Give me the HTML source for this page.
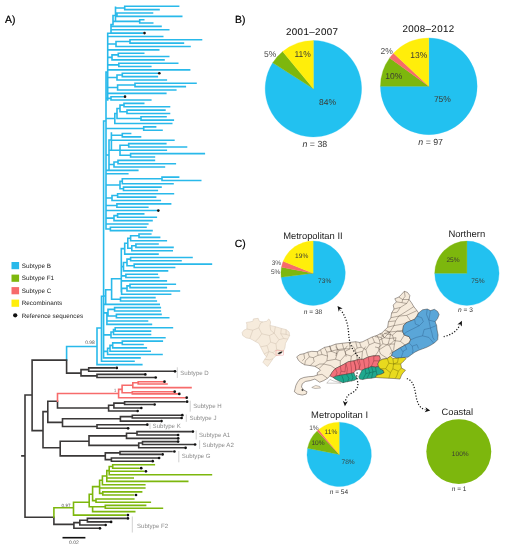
<!DOCTYPE html>
<html lang="en">
<head>
<meta charset="utf-8">
<title>HIV-1 subtype phylogeny and distribution</title>
<style>
html,body{margin:0;padding:0;background:#fff;}
body{width:505px;height:550px;overflow:hidden;}
svg{display:block;font-family:"Liberation Sans",Arial,Helvetica,sans-serif;}
svg text{font-family:"Liberation Sans",Arial,Helvetica,sans-serif;text-rendering:geometricPrecision;}
</style>
</head>
<body>
<svg width="505" height="550" viewBox="0 0 505 550">
<rect width="505" height="550" fill="#fff"/>
<g id="maps"><polygon points="296.71,356.88 299.88,354.5 303.84,353.71 307.8,352.13 311.76,351.34 317.31,351.65 320.48,349.75 324.44,347.38 329.98,346.27 335.84,344.06 342.18,343.27 349.31,342.48 355.64,341.68 359.6,342.48 362.77,341.68 367.52,339.31 372.28,336.93 377.03,335.35 381.78,332.97 384.5,330.4 387.67,327.23 388.47,321.68 390.84,317.72 391.63,312.97 394.01,309.01 393.22,305.05 396.39,301.88 394.8,298.71 398.76,297.13 401.14,294.75 404.31,291.27 407.48,292.38 409.85,295.54 409.06,299.5 411.44,302.67 413.81,306.63 416.98,310.59 418.56,312.97 416.98,316.14 414.6,319.31 410.64,320.89 406.68,322.48 403.51,325.64 402.72,330.4 402.72,331.88 404.31,335.05 409.06,336.63 410.64,339.8 409.06,342.97 405.1,345.03 400.35,347.72 396.39,350.1 392.43,352.48 391.63,355.64 387.28,358.47 382.52,359.26 379.36,360.84 380.15,358.47 379.36,355.77 373.81,355.77 368.27,356.88 363.51,359.26 358.76,359.26 354.01,360.84 348.47,361.63 342.92,364.8 338.17,367.18 335,368.76 332.36,371.93 329.98,375.89 327.6,378.27 323.64,380.64 319.68,382.23 317.31,380.64 314.93,379.06 310.18,380.64 305.43,381.44 302.26,383.81 301.47,386.98 303.84,390.15 307.01,391.73 306.22,394.11 302.26,395.06 297.5,394.11 294.34,391.73 295.13,388.56 295.92,385.4 297.5,382.23 299.88,379.06 303.84,377.48 308.59,376.68 313.35,376.37 317.31,375.1 317.31,372.72 320.48,370.35 318.89,368.76 314.93,366.39 310.18,365.59 304.63,364.8 300.67,362.43 298.3,360.05" fill="#f6ebdc" stroke="#3a2f28" stroke-width="0.45" stroke-linejoin="round"/>
<polygon points="379.36,355.77 380.15,358.47 379.36,360.84 377.77,364.01 378.56,366.39 375.4,367.18 371.44,366.39 368.27,367.97 365.1,368.76 361.93,370.35 358.76,369.55 355.59,370.35 354.01,372.72 350.05,373.51 346.09,374.31 341.34,375.1 337.38,375.89 335,376.37 333.15,377.48 329.98,375.89 332.36,371.93 335,368.76 338.17,367.18 342.92,364.8 348.47,361.63 354.01,360.84 358.76,359.26 363.51,359.26 368.27,356.88 373.81,355.77" fill="#f2707a" stroke="#3a2f28" stroke-width="0.45" stroke-linejoin="round"/>
<polygon points="333.15,377.48 337.38,375.89 341.34,375.1 346.09,374.31 350.05,373.51 354.01,372.88 355.28,375.89 357.18,378.27 354.8,380.17 350.84,381.12 346.88,381.75 342.92,382.7 338.96,381.12 335,378.9" fill="#1fa88e" stroke="#3a2f28" stroke-width="0.45" stroke-linejoin="round"/>
<polygon points="358.76,376.68 360.35,373.51 361.93,370.35 365.1,368.76 368.27,367.97 371.44,366.39 375.4,367.18 378.56,366.39 380.15,368.76 383.32,370.35 384.11,372.72 380.94,374.31 376.98,375.1 375.4,377.48 371.44,378.27 366.68,378.58 362.72,379.53 359.55,379.06" fill="#1fa88e" stroke="#3a2f28" stroke-width="0.45" stroke-linejoin="round"/>
<polygon points="379.36,360.84 382.52,359.26 387.28,358.47 390.45,356.09 392.82,358.47 398.37,357.67 403.91,356.88 406.29,358.47 403.12,361.63 400.74,364.01 401.53,367.97 405.5,370.35 403.12,372.72 401.53,375.1 399.95,379.06 395.2,378.58 388.86,378.27 382.52,377.95 375.4,377.48 376.98,375.1 380.94,374.31 384.11,372.72 383.32,370.35 380.15,368.76 378.56,366.39 377.77,364.01" fill="#e8da1e" stroke="#3a2f28" stroke-width="0.45" stroke-linejoin="round"/>
<polygon points="418.56,312.97 422.52,309.8 427.28,309.01 430.45,310.59 434.41,309.33 437.57,311.39 439.16,314.55 437.57,318.51 435.2,321.68 435.99,324.06 436.6,325 437.1,330 438.1,334.9 437.7,339.7 434.6,342.8 430.6,345.3 426.7,347.3 422.7,348.8 418.8,350.2 414.8,352.2 411.3,354.7 407.9,357.2 405.9,357.3 401.1,357.7 396.4,358 391.63,355.64 392.43,352.48 396.39,350.1 400.35,347.72 405.1,345.03 409.06,342.97 410.64,339.8 409.06,336.63 404.31,335.05 402.72,331.88 402.72,330.4 403.51,325.64 406.68,322.48 410.64,320.89 414.6,319.31 416.98,316.14" fill="#5aa6d8" stroke="#3a2f28" stroke-width="0.45" stroke-linejoin="round"/>
<polygon points="326.81,383.18 329.98,379.38 333.15,380.8 338.69,382.23 341.07,383.18" fill="#fff" stroke="#3a2f28" stroke-width="0.25" stroke-linejoin="round"/>
<polygon points="311.76,387.46 315.72,385.4 319.68,386.5 320.48,388.09 314.93,388.56" fill="#f6ebdc" stroke="#3a2f28" stroke-width="0.3" stroke-linejoin="round"/>
<polygon points="301.47,389.67 302.57,389.04 303.52,390.31 302.26,390.94" fill="#333" stroke="#333" stroke-width="0.2" stroke-linejoin="round"/>
<path d="M303.84 353.71L304.63 358.47L302.26 360.84M307.8 352.13L309.39 356.88L313.35 357.67L314.14 361.63L310.18 365.59M317.31 351.65L318.1 355.3L313.35 357.67M320.48 349.75L322.06 354.5L318.1 355.3M322.06 354.5L327.6 356.09L326.81 360.84L323.64 364.01L318.89 368.76M324.44 347.38L326.81 352.13L327.6 356.09M329.98 346.27L331.56 351.34L326.81 352.13M331.56 351.34L337.11 353.71L335.52 359.26L326.81 360.84M335.52 346.58L338.69 350.54L337.11 353.71M335.52 359.26L340.28 360.84L340.28 365.59M323.64 364.01L330.77 365.59L335.52 368.76M338.69 350.54L344.24 349.75L345.82 354.5L340.28 360.84M345.82 354.5L351.37 356.09L350.57 362.43M344.24 349.75L347.41 345.79M351.37 356.09L356.12 352.92L357.7 361.63M356.12 352.92L354.53 348.17L351.37 345M356.12 352.92L362.46 351.34L361.66 360.05M362.46 351.34L365.62 346.58M317.31 375.1L322.06 374.31L327.6 378.27M314.93 366.39L319.68 364.01L323.64 364.01M304.63 364.8L305.43 360.84L309.39 356.88" fill="none" stroke="#4f4238" stroke-width="0.4" stroke-linejoin="round"/>
<path d="M367.52 339.31L369.11 344.85L365.94 349.6L367.52 355.94M372.28 336.93L374.65 342.48L369.11 344.85M374.65 342.48L380.2 344.06L379.41 349.6L374.65 356.73M377.03 335.35L379.41 340.1L380.2 344.06M381.78 332.97L384.16 337.72L379.41 340.1M384.16 337.72L389.7 338.51L388.12 344.06L379.41 349.6M386.53 330.59L390.5 333.76L389.7 338.51M389.7 338.51L396.04 337.72L394.46 344.06L388.12 344.06M394.46 344.06L393.66 349.6L389.7 354.36M355.64 341.68L357.23 348.02L354.06 351.19M359.6 342.48L361.19 347.23L357.23 348.02M361.19 347.23L365.94 349.6M349.31 342.48L350.1 348.81L345.35 351.19L346.14 356.73M342.18 343.27L343.76 348.81L350.1 348.81M335.84 344.06L337.43 349.6L343.76 348.81M337.43 349.6L335.84 355.94M329.5 345.64L331.09 351.19L337.43 349.6" fill="none" stroke="#4f4238" stroke-width="0.4" stroke-linejoin="round"/>
<path d="M394.01 309.01L400.35 307.43L406.68 303.47L409.06 299.5M396.39 301.88L401.93 302.67L406.68 303.47M398.76 297.13L402.72 299.5L401.93 302.67M402.72 299.5L409.06 299.5M404.31 291.27L405.1 296.34L402.72 299.5M390.84 317.72L398.76 316.14L405.1 312.18L413.81 306.63M388.47 321.68L395.59 320.89L398.76 316.14M387.67 327.23L394.01 325.64L395.59 320.89M394.01 325.64L402.72 324.06L406.68 322.48M398.76 316.14L406.68 315.35L416.98 310.59M406.68 315.35L410.64 320.89M384.5 330.4L390.05 331.98L394.01 325.64M390.05 331.98L397.18 331.19L402.72 330.4M379.75 333.56L384.5 337.52L390.05 331.98M391.63 312.97L397.18 312.18L400.35 307.43" fill="none" stroke="#4f4238" stroke-width="0.4" stroke-linejoin="round"/>
<path d="M375 336.63L381.34 337.43L384.5 333.47L390.05 332.04M381.34 337.43L382.92 343.76L378.17 347.72L375 346.93M382.92 343.76L389.26 345.35L392.43 352.48M389.26 345.35L394.01 340.59L400.35 341.39L405.1 345.03M394.01 340.59L392.43 335.05L397.18 331.09L402.72 331.88M384.5 333.47L392.43 335.05M378.17 347.72L380.54 354.06L386.88 358.02M400.35 341.39L404.31 335.05" fill="none" stroke="#4f4238" stroke-width="0.4" stroke-linejoin="round"/>
<path d="M427.28 309.01L426.49 314.55L428.86 320.1L430.45 328.02L432.03 333.56L432.82 337.52L434.41 339.9M430.45 310.59L429.65 315.35L428.86 320.1M428.86 320.1L435.2 321.68M430.45 328.02L435.99 325.64M416.98 316.14L421.73 317.72L423.32 321.68L419.36 325.64L415.4 324.06L414.6 319.31M419.36 325.64L413.02 328.81L406.68 331.98L403.51 334.36" fill="none" stroke="#2c5c88" stroke-width="0.4" stroke-linejoin="round"/>
<path d="M410.64 339.8L416.19 337.43L422.52 335.84L428.86 337.43L433.61 342.97M422.52 335.84L424.11 329.5L430.45 328.08M409.06 342.97L412.23 346.14L413.02 350.89L412.23 353.27M412.23 346.14L416.98 344.55L418.56 348.51M405.1 345.03L406.68 349.31L403.51 350.89L401.14 357.7M400.35 347.72L402.72 351.68" fill="none" stroke="#2c5c88" stroke-width="0.4" stroke-linejoin="round"/>
<path d="M387.28 358.47L388.86 363.22L393.61 364.01L400.74 364.01M388.86 363.22L385.69 368.76L380.15 368.76M385.69 368.76L390.45 372.72L388.86 378.27M393.61 364.01L392.82 368.76L390.45 372.72M392.82 368.76L398.37 371.14L401.53 367.97M398.37 371.14L396.78 375.89L395.2 378.58M392.82 358.47L393.61 364.01M398.37 357.67L397.57 362.43L393.61 364.01" fill="none" stroke="#5f5a00" stroke-width="0.4" stroke-linejoin="round"/>
<path d="M335.52 368.76L337.11 372.72L335.52 376.68M340.28 365.59L341.07 371.14L339.49 375.89M341.07 371.14L345.03 371.93L345.82 363.22M345.82 363.22L347.41 368.76L346.61 374.78M350.57 362.43L351.37 367.97L351.37 373.51M353.74 360.84L355.33 366.39L356.12 371.14M357.7 361.63L359.29 365.59L359.29 369.55" fill="none" stroke="#7a2a32" stroke-width="0.4" stroke-linejoin="round"/>
<path d="M354.01 360.84L355.59 365.59L355.59 370.35M358.76 359.26L360.35 364.8L358.76 369.55M363.51 359.26L364.31 364.01L365.1 368.76M368.27 356.88L369.06 362.43L368.27 367.97M373.81 355.77L373.81 360.84L371.44 366.39M373.81 360.84L379.36 360.84" fill="none" stroke="#7a2a32" stroke-width="0.4" stroke-linejoin="round"/>
<path d="M341.86 375.89L343.45 379.85L343.45 383.02M346.61 374.78L348.99 378.27L347.41 382.23M351.37 373.51L352.95 377.48L351.37 381.44" fill="none" stroke="#0b5043" stroke-width="0.4" stroke-linejoin="round"/>
<path d="M365.1 368.76L365.89 373.51L362.72 379.53M368.27 367.97L369.85 372.72L366.68 378.58M371.44 366.39L373.02 371.93L371.44 378.27M375.4 367.18L376.19 371.14L376.98 375.1M365.89 373.51L369.85 372.72L373.02 371.93L376.19 371.14" fill="none" stroke="#0b5043" stroke-width="0.4" stroke-linejoin="round"/>
<polygon points="253.42,318.91 258.17,318.32 259.36,321.29 262.92,321.88 266.48,321.29 268.86,318.91 270.64,321.88 270.05,325.44 275.39,326.63 281.33,328.42 286.09,329.6 289.06,331.98 289.65,335.54 287.87,339.11 285.49,343.27 284.9,348.02 283.12,351.58 280.15,354.55 275.99,355.74 273.02,358.71 270.64,362.28 267.67,366.43 266.48,365.84 262.92,362.28 264.7,359.3 266.48,356.93 264.11,353.96 262.33,350.39 260.54,346.83 258.76,343.27 255.2,341.48 252.23,339.7 249.85,338.51 246.29,337.92 242.72,335.54 242.13,332.57 243.91,330.2 246.88,329.01 246.88,324.26 246.29,322.47 249.85,321.88 252.82,321.29" fill="#f6ebdc" stroke="#d4c5b2" stroke-width="0.5" stroke-linejoin="round"/>
<path d="M246.88 329.01L252.82 330.2L258.76 327.82L260.54 323.07L262.92 321.88M258.76 327.82L261.73 333.76L258.76 337.92L255.2 341.48M261.73 333.76L269.45 335.54L274.21 333.17L275.39 326.63M270.05 325.44L270.64 330.2L274.21 333.17M269.45 335.54L270.64 342.08L267.08 345.64L260.54 346.83M270.64 342.08L275.99 343.86L278.96 339.7L274.21 333.17M278.96 339.7L283.71 338.51L287.87 339.11M281.33 328.42L280.74 333.76L283.71 338.51M280.74 333.76L286.09 334.36L289.65 335.54M275.99 343.86L276.58 349.21L283.12 351.58M276.58 349.21L273.02 352.77L275.99 355.74M267.08 345.64L268.86 351.58L273.02 352.77M268.86 351.58L266.48 356.93M264.7 359.3L269.45 359.9L273.02 358.71M264.11 353.96L268.86 351.58M249.85 338.51L252.82 330.2M286.09 329.6L286.09 334.36" fill="none" stroke="#cbbca9" stroke-width="0.45" stroke-linejoin="round"/>
<polygon points="277.77,353.48 279.55,352.3 282.17,351.58 281.45,353.01 279.08,354.08" fill="#111" stroke="#111" stroke-width="0.2" stroke-linejoin="round"/>
<rect x="276" y="350.3" width="7.7" height="4.8" fill="none" stroke="#f08a8a" stroke-width="0.4"/></g>
<g id="arrows"><path d="M359.6 358.2C359.02 357.52 357.22 355.53 356.1 354.1C354.98 352.67 353.85 351.3 352.9 349.6C351.95 347.9 351.03 345.8 350.4 343.9C349.77 342 349.42 340.22 349.1 338.2C348.78 336.18 348.75 333.92 348.5 331.8C348.25 329.68 348.03 327.52 347.6 325.5C347.17 323.48 346.6 321.62 345.9 319.7C345.2 317.78 344.28 315.62 343.4 314C342.52 312.38 341.07 310.67 340.6 310" fill="none" stroke="#161616" stroke-width="1.25" stroke-dasharray="1.2 1.7"/>
<polygon points="0,0 -5.2,-2.5 -3.8,0 -5.2,2.5" fill="#111" transform="translate(337.5 306) rotate(-128)"/>
<path d="M443.7 336.7C444.55 336.43 447.17 335.8 448.8 335.1C450.43 334.4 452.05 333.55 453.5 332.5C454.95 331.45 456.43 330.05 457.5 328.8C458.57 327.55 459.5 325.63 459.9 325" fill="none" stroke="#161616" stroke-width="1.25" stroke-dasharray="1.2 1.7"/>
<polygon points="0,0 -5.2,-2.5 -3.8,0 -5.2,2.5" fill="#111" transform="translate(461.9 320.8) rotate(-64)"/>
<path d="M357.2 372.5C357.12 373.07 356.7 374.67 356.7 375.9C356.7 377.13 357 378.48 357.2 379.9C357.4 381.32 357.95 383 357.9 384.4C357.85 385.8 357.42 387.2 356.9 388.3C356.38 389.4 355.65 390.22 354.8 391C353.95 391.78 352.8 392.37 351.8 393C350.8 393.63 349.63 394.1 348.8 394.8C347.97 395.5 347.35 396.23 346.8 397.2C346.25 398.17 345.72 400.03 345.5 400.6" fill="none" stroke="#161616" stroke-width="1.25" stroke-dasharray="1.2 1.7"/>
<polygon points="0,0 -5.2,-2.5 -3.8,0 -5.2,2.5" fill="#111" transform="translate(344.9 406.2) rotate(95)"/>
<path d="M406.9 378.4C407.55 378.82 409.73 379.82 410.8 380.9C411.87 381.98 412.63 383.42 413.3 384.9C413.97 386.38 414.38 388.15 414.8 389.8C415.22 391.45 415.47 393.15 415.8 394.8C416.13 396.45 416.3 398.05 416.8 399.7C417.3 401.35 417.98 403.3 418.8 404.7C419.62 406.1 420.62 407.27 421.7 408.1C422.78 408.93 424.7 409.43 425.3 409.7" fill="none" stroke="#161616" stroke-width="1.25" stroke-dasharray="1.2 1.7"/>
<polygon points="0,0 -5.2,-2.5 -3.8,0 -5.2,2.5" fill="#111" transform="translate(430.2 410.4) rotate(8)"/></g>
<g id="pies"><path d="M313.4 88.7L313.4 40.5A48.2 48.2 0 1 1 272.7 62.87Z" fill="#22c1f0" stroke="#22c1f0" stroke-width="0.3"/>
<path d="M313.4 88.7L272.7 62.87A48.2 48.2 0 0 1 282.68 51.56Z" fill="#7db70d" stroke="#7db70d" stroke-width="0.3"/>
<path d="M313.4 88.7L282.68 51.56A48.2 48.2 0 0 1 313.4 40.5Z" fill="#ffee0a" stroke="#ffee0a" stroke-width="0.3"/>
<path d="M428.8 86.3L428.8 37.95A48.35 48.35 0 1 1 380.45 86.3Z" fill="#22c1f0" stroke="#22c1f0" stroke-width="0.3"/>
<path d="M428.8 86.3L380.45 86.3A48.35 48.35 0 0 1 389.68 57.88Z" fill="#7db70d" stroke="#7db70d" stroke-width="0.3"/>
<path d="M428.8 86.3L389.68 57.88A48.35 48.35 0 0 1 393.55 53.2Z" fill="#f76b6b" stroke="#f76b6b" stroke-width="0.3"/>
<path d="M428.8 86.3L393.55 53.2A48.35 48.35 0 0 1 428.8 37.95Z" fill="#ffee0a" stroke="#ffee0a" stroke-width="0.3"/>
<path d="M313.1 273.2L313.1 241A32.2 32.2 0 1 1 281.15 277.24Z" fill="#22c1f0" stroke="#22c1f0" stroke-width="0.3"/>
<path d="M313.1 273.2L281.15 277.24A32.2 32.2 0 0 1 281.47 267.17Z" fill="#7db70d" stroke="#7db70d" stroke-width="0.3"/>
<path d="M313.1 273.2L281.47 267.17A32.2 32.2 0 0 1 283.16 261.35Z" fill="#f76b6b" stroke="#f76b6b" stroke-width="0.3"/>
<path d="M313.1 273.2L283.16 261.35A32.2 32.2 0 0 1 313.1 241Z" fill="#ffee0a" stroke="#ffee0a" stroke-width="0.3"/>
<path d="M466.9 273.3L466.9 241.1A32.2 32.2 0 1 1 434.7 273.3Z" fill="#22c1f0" stroke="#22c1f0" stroke-width="0.3"/>
<path d="M466.9 273.3L434.7 273.3A32.2 32.2 0 0 1 466.9 241.1Z" fill="#7db70d" stroke="#7db70d" stroke-width="0.3"/>
<path d="M339.2 454.4L339.2 422.2A32.2 32.2 0 1 1 307.57 448.37Z" fill="#22c1f0" stroke="#22c1f0" stroke-width="0.3"/>
<path d="M339.2 454.4L307.57 448.37A32.2 32.2 0 0 1 317.16 430.93Z" fill="#7db70d" stroke="#7db70d" stroke-width="0.3"/>
<path d="M339.2 454.4L317.16 430.93A32.2 32.2 0 0 1 318.67 429.59Z" fill="#f76b6b" stroke="#f76b6b" stroke-width="0.3"/>
<path d="M339.2 454.4L318.67 429.59A32.2 32.2 0 0 1 339.2 422.2Z" fill="#ffee0a" stroke="#ffee0a" stroke-width="0.3"/>
<circle cx="458.8" cy="451.6" r="32.45" fill="#7db70d"/></g>
<g id="tree"><path d="M124.7 6.3L178.6 6.3 M124.7 9.65L159 9.65 M124.7 6.3L124.7 9.65 M115.5 7.97L124.7 7.97 M117 13L152.5 13 M117 16.35L181.7 16.35 M117 13L117 16.35 M115.5 14.67L117 14.67 M139.7 19.69L143.7 19.69 M139.7 23.04L152.7 23.04 M139.7 19.69L139.7 23.04 M113 21.37L139.7 21.37 M111 26.39L161 26.39 M111 29.74L168.7 29.74 M111 33.09L142.5 33.09 M107.7 36.44L162.7 36.44 M130 39.79L201.5 39.79 M130 43.13L183.4 43.13 M130 39.79L130 43.13 M116 41.46L130 41.46 M116 46.48L190 46.48 M116 41.46L116 46.48 M107.7 43.97L116 43.97 M107.7 49.83L158.7 49.83 M118.3 53.18L143.7 53.18 M118.3 56.53L168.7 56.53 M118.3 53.18L118.3 56.53 M112 54.85L118.3 54.85 M112 59.88L164 59.88 M112 54.85L112 59.88 M107.7 57.37L112 57.37 M118.8 63.23L177.7 63.23 M118.8 66.57L150.8 66.57 M118.8 63.23L118.8 66.57 M107.7 64.9L118.8 64.9 M107.7 69.92L189.6 69.92 M122.3 73.27L157.3 73.27 M122.3 76.62L157.3 76.62 M122.3 73.27L122.3 76.62 M117 74.95L122.3 74.95 M117 79.97L166.3 79.97 M117 74.95L117 79.97 M107.7 77.46L117 77.46 M135 83.32L196 83.32 M135 86.67L185.3 86.67 M135 83.32L135 86.67 M117.6 84.99L135 84.99 M117.6 90.01L175.8 90.01 M117.6 84.99L117.6 90.01 M107.7 87.5L117.6 87.5 M107.7 93.36L165.8 93.36 M111 96.71L123 96.71 M111 100.06L150.8 100.06 M111 96.71L111 100.06 M106 98.39L111 98.39 M124 103.41L143.7 103.41 M124 106.76L169.5 106.76 M124 103.41L124 106.76 M120 105.08L124 105.08 M127 110.11L164.9 110.11 M127 113.46L169.5 113.46 M127 110.11L127 113.46 M120 111.78L127 111.78 M120 105.08L120 111.78 M117 108.43L120 108.43 M141 116.8L166 116.8 M141 120.15L173.3 120.15 M141 116.8L141 120.15 M117 118.48L141 118.48 M117 108.43L117 118.48 M114.8 113.46L117 113.46 M114.8 123.5L171.7 123.5 M114.8 113.46L114.8 123.5 M106 118.48L114.8 118.48 M143.7 126.85L155.6 126.85 M143.7 130.2L162 130.2 M143.7 126.85L143.7 130.2 M106 128.52L143.7 128.52 M122.3 133.55L130.6 133.55 M122.3 136.9L140.5 136.9 M122.3 133.55L122.3 136.9 M111.4 135.22L122.3 135.22 M111.4 140.24L173.9 140.24 M128.7 143.59L165.8 143.59 M128.7 146.94L186.5 146.94 M128.7 143.59L128.7 146.94 M120 145.27L128.7 145.27 M120 150.29L166.3 150.29 M130.6 153.64L204.3 153.64 M130.6 156.99L154.4 156.99 M130.6 153.64L130.6 156.99 M120 155.31L130.6 155.31 M120 145.27L120 155.31 M109 150.29L120 150.29 M118 160.34L154.4 160.34 M118 163.68L175.3 163.68 M118 160.34L118 163.68 M114 162.01L118 162.01 M114 167.03L164.4 167.03 M114 162.01L114 167.03 M109 164.52L114 164.52 M106 170.38L137.8 170.38 M106 173.73L127.8 173.73 M162 177.08L178.6 177.08 M162 180.43L200.7 180.43 M162 177.08L162 180.43 M122.3 178.75L162 178.75 M122.3 183.78L173 183.78 M122.3 178.75L122.3 183.78 M120 181.26L122.3 181.26 M123.5 187.12L161 187.12 M123.5 190.47L157.3 190.47 M123.5 187.12L123.5 190.47 M120 188.8L123.5 188.8 M120 181.26L120 188.8 M106 185.03L120 185.03 M117.6 193.82L173.4 193.82 M117.6 197.17L155.6 197.17 M117.6 193.82L117.6 197.17 M112 195.5L117.6 195.5 M112 200.52L160.3 200.52 M112 195.5L112 200.52 M106 198.01L112 198.01 M116.9 203.87L170.6 203.87 M116.9 207.22L147.8 207.22 M116.9 203.87L116.9 207.22 M106 205.54L116.9 205.54 M106 210.56L156.3 210.56 M117.6 213.91L143.7 213.91 M117.6 217.26L156.3 217.26 M117.6 213.91L117.6 217.26 M114 215.59L117.6 215.59 M114 220.61L152 220.61 M114 215.59L114 220.61 M106 218.1L114 218.1 M106 223.96L147.8 223.96 M110.4 227.31L146 227.31 M110.4 230.66L152 230.66 M110.4 227.31L110.4 230.66 M106 228.98L110.4 228.98 M139 234L150.8 234 M139 237.35L159.6 237.35 M139 234L139 237.35 M130.6 235.68L139 235.68 M130.6 240.7L166.3 240.7 M130.6 235.68L130.6 240.7 M127.8 238.19L130.6 238.19 M135.9 244.05L158 244.05 M135.9 247.4L173 247.4 M135.9 244.05L135.9 247.4 M131.8 245.72L135.9 245.72 M131.8 250.75L172.2 250.75 M131.8 245.72L131.8 250.75 M127.8 248.24L131.8 248.24 M127.8 238.19L127.8 248.24 M124.7 243.21L127.8 243.21 M124.7 254.1L158 254.1 M124.7 243.21L124.7 254.1 M121.3 248.65L124.7 248.65 M130.6 257.44L192 257.44 M130.6 260.79L181 260.79 M130.6 257.44L130.6 260.79 M127 259.12L130.6 259.12 M134.2 264.14L211.4 264.14 M134.2 267.49L174.6 267.49 M134.2 264.14L134.2 267.49 M127 265.82L134.2 265.82 M127 259.12L127 265.82 M123.5 262.47L127 262.47 M123.5 270.84L167.5 270.84 M123.5 262.47L123.5 270.84 M121.3 266.65L123.5 266.65 M125.9 274.19L157.3 274.19 M125.9 277.54L158.7 277.54 M125.9 274.19L125.9 277.54 M121.3 275.86L125.9 275.86 M121.3 280.89L166.3 280.89 M130 284.23L175.3 284.23 M130 287.58L166.3 287.58 M130 284.23L130 287.58 M127 285.91L130 285.91 M127 290.93L179.4 290.93 M127 285.91L127 290.93 M121.6 288.42L127 288.42 M121.6 294.28L170.6 294.28 M121.6 288.42L121.6 294.28 M121.3 291.35L121.6 291.35 M121.3 248.65L121.3 291.35 M111.6 278.7L121.3 278.7 M120.5 297.63L154.9 297.63 M120.5 300.98L156.3 300.98 M120.5 297.63L120.5 300.98 M111.6 299.3L120.5 299.3 M111.6 278.7L111.6 299.3 M105.7 289.8L111.6 289.8 M103.6 304.33L159.2 304.33 M114.6 307.67L160.3 307.67 M114.6 311.02L160.3 311.02 M114.6 307.67L114.6 311.02 M108 309.35L114.6 309.35 M116.4 314.37L161 314.37 M116.4 317.72L168.7 317.72 M116.4 314.37L116.4 317.72 M108 316.05L116.4 316.05 M108 309.35L108 316.05 M103.6 312.7L108 312.7 M106.9 321.07L147.5 321.07 M106.9 324.42L151.4 324.42 M115.2 327.77L172.4 327.77 M115.2 331.11L150.5 331.11 M115.2 327.77L115.2 331.11 M113.5 329.44L115.2 329.44 M113.5 334.46L150.5 334.46 M113.5 329.44L113.5 334.46 M111 331.95L113.5 331.95 M111 337.81L164.9 337.81 M111 331.95L111 337.81 M103.6 334.88L111 334.88 M122.3 341.16L162.3 341.16 M122.3 344.51L143 344.51 M122.3 341.16L122.3 344.51 M112.7 342.83L122.3 342.83 M112.7 347.86L146.3 347.86 M112.7 342.83L112.7 347.86 M110 345.35L112.7 345.35 M110 351.21L150.2 351.21 M110 345.35L110 351.21 M107.6 348.28L110 348.28 M107.6 354.55L162 354.55 M107.6 348.28L107.6 354.55 M103.6 351.41L107.6 351.41 M103.6 357.9L140 357.9 M101.5 361.25L134 361.25 M97 364.6L141.8 364.6 M115.5 7.4L115.5 21.3 M113 15.5L113 24.5 M115.5 15.5L113 15.5 M111 24.5L111 33.3 M113 24.5L111 24.5 M107.7 33.3L107.7 100 M111 33.3L107.7 33.3 M106 72L106 229 M107.7 72L106 72 M111.4 133L111.4 148.7 M109 140L111.4 140 M109 140L109 169.5 M106 155L109 155 M103.6 121L103.6 358 M106 121L103.6 121 M105.7 289.8L105.7 304 M103.6 296L105.7 296 M106.9 313L106.9 324.4 M103.6 313L106.9 313 M101.5 296.3L101.5 361.3 M103.6 296.3L101.5 296.3 M97 328L97 364.6 M101.5 328L97 328 M66.6 346.5L97 346.5 M66.6 346.5L66.6 360.1" fill="none" stroke="#29b9ea" stroke-width="1.6" stroke-linecap="square"/>
<path d="M25 395L25 517.3 M21.9 455.9L25 455.9 M25 395L32.1 395 M32.1 360.1L32.1 430.6 M32.1 360.1L66.6 360.1 M66.6 360.1L66.6 373.1 M66.6 373.1L81 373.1 M81 369.6L81 375.9 M81 369.6L88.7 369.6 M88.7 367.9L88.7 371.3 M88.7 367.9L114.8 367.9 M88.7 371.3L173.2 371.3 M81 375.9L97 375.9 M97 374.4L97 377.5 M97 374.4L143.5 374.4 M97 377.5L154 377.5 M32.1 430.6L43 430.6 M43 411.6L43 447.8 M43 411.6L47.8 411.6 M47.8 401.3L47.8 422.4 M47.8 401.3L57.5 401.3 M57.5 401.3L57.5 408 M57.5 408L108.6 408 M108.6 405.3L108.6 411 M108.6 405.3L113.9 405.3 M113.9 403.1L113.9 408 M113.9 403.1L124.6 403.1 M124.6 401.7L124.6 404.5 M124.6 401.7L185 401.7 M124.6 404.5L152.7 404.5 M113.9 408L139.5 408 M108.6 411L135.9 411 M47.8 422.4L62.5 422.4 M62.5 418.8L62.5 426.5 M62.5 418.8L120.4 418.8 M120.4 416.6L120.4 421.1 M120.4 416.6L132.3 416.6 M132.3 415.2L132.3 418 M132.3 415.2L180.6 415.2 M132.3 418L180 418 M120.4 421.1L159.6 421.1 M62.5 426.5L97 426.5 M97 424.7L97 428.3 M97 424.7L145.4 424.7 M97 428.3L126.4 428.3 M43 447.8L60.2 447.8 M60.2 441.2L60.2 455.9 M60.2 441.2L89 441.2 M89 435.9L89 445.4 M89 435.9L126.5 435.9 M126.5 433.3L126.5 438.4 M126.5 433.3L137 433.3 M137 431.6L137 435 M137 431.6L191 431.6 M137 435L176.5 435 M126.5 438.4L176.5 438.4 M89 445.4L138.7 445.4 M138.7 443L138.7 447.8 M138.7 443L142.5 443 M142.5 441.6L142.5 444.5 M142.5 441.6L176.5 441.6 M142.5 444.5L193.5 444.5 M138.7 447.8L184 447.8 M60.2 455.9L105.3 455.9 M105.3 452.9L105.3 459.6 M105.3 452.9L120 452.9 M120 451.5L120 454.4 M120 451.5L172 451.5 M120 454.4L160.5 454.4 M105.3 459.6L111.4 459.6 M111.4 458L111.4 461.2 M111.4 458L157.3 458 M111.4 461.2L150.8 461.2 M25 517.3L53.9 517.3 M53.9 517.3L53.9 524.4 M53.9 524.4L73.9 524.4 M73.9 522.6L73.9 528.3 M73.9 522.6L79.8 522.6 M79.8 520.2L79.8 525 M79.8 520.2L87.4 520.2 M87.4 518.4L87.4 521.9 M87.4 518.4L126 518.4 M87.4 521.9L109.2 521.9 M79.8 525L103.8 525 M73.9 528.3L98 528.3" fill="none" stroke="#3a3838" stroke-width="1.6" stroke-linecap="square"/>
<path d="M57.5 393.5L57.5 401.3 M57.5 393.5L118.6 393.5 M118.6 389.4L118.6 397.7 M118.6 397.7L184.9 397.7 M118.6 389.4L122.1 389.4 M122.1 385.3L122.1 392.8 M122.1 385.3L132.8 385.3 M132.8 382.8L132.8 387.6 M132.8 387.6L191 387.6 M132.8 382.8L138.2 382.8 M138.2 381.7L138.2 384 M138.2 381.7L162.8 381.7 M138.2 384L167 384 M122.1 392.8L132.3 392.8 M132.3 391.7L132.3 393.9 M132.3 391.7L173 391.7 M132.3 393.9L177.6 393.9" fill="none" stroke="#f76b6b" stroke-width="1.6" stroke-linecap="square"/>
<path d="M53.9 507.8L53.9 517.3 M53.9 507.8L73.5 507.8 M73.5 502.3L73.5 515.1 M73.5 515.1L125.8 515.1 M73.5 502.3L89.2 502.3 M89.2 494.3L89.2 506.8 M89.2 494.3L92.6 494.3 M92.6 486.6L92.6 500.6 M92.6 500.6L96 500.6 M96 499L96 502.2 M96 499L133.8 499 M96 502.2L150.3 502.2 M92.6 486.6L99.6 486.6 M99.6 480.2L99.6 493.4 M99.6 488L144.8 488 M99.6 493.4L102.8 493.4 M102.8 491.9L102.8 495 M102.8 491.9L141.6 491.9 M102.8 495L133.5 495 M99.6 480.2L102.4 480.2 M102.4 476L102.4 484.8 M102.4 484.8L144.8 484.8 M102.4 476L106.8 476 M106.8 470.6L106.8 481.4 M106.8 478L133.2 478 M106.8 481.4L187.7 481.4 M106.8 470.6L109.2 470.6 M109.2 466.5L109.2 474.7 M109.2 471.3L143.6 471.3 M109.2 474.7L211.4 474.7 M109.2 466.5L112.7 466.5 M112.7 464.8L112.7 468.2 M112.7 464.8L154.3 464.8 M112.7 468.2L138.9 468.2 M89.2 506.8L105.3 506.8 M92.6 506.8L92.6 511.6 M92.6 511.6L134.7 511.6 M105.3 505.4L105.3 508.3 M105.3 505.4L145.6 505.4 M105.3 508.3L162.4 508.3" fill="none" stroke="#7db70d" stroke-width="1.6" stroke-linecap="square"/>
<path d="M177.3 367.8L177.3 377.4 M190.2 401.2L190.2 411.2 M186.3 415L186.3 421.3 M150 423.8L150 428.5 M196.2 431L196.2 439 M199.6 440.8L199.6 448.5 M178.8 451.5L178.8 461.8 M132.3 517L132.3 532" fill="none" stroke="#b0b0b0" stroke-width="0.6" stroke-linecap="square"/></g>
<g id="dots" fill="#111"><circle cx="144.5" cy="33.09" r="1.35"/><circle cx="159.3" cy="73.27" r="1.35"/><circle cx="125" cy="96.71" r="1.35"/><circle cx="158.3" cy="210.56" r="1.35"/><circle cx="116.8" cy="367.9" r="1.35"/><circle cx="175" cy="371.3" r="1.35"/><circle cx="145.3" cy="374.4" r="1.35"/><circle cx="155.7" cy="377.5" r="1.35"/><circle cx="186.7" cy="397.7" r="1.35"/><circle cx="164.5" cy="381.7" r="1.35"/><circle cx="174.7" cy="391.7" r="1.35"/><circle cx="179.3" cy="393.9" r="1.35"/><circle cx="187.1" cy="401.7" r="1.35"/><circle cx="154.6" cy="404.5" r="1.35"/><circle cx="141.3" cy="408" r="1.35"/><circle cx="137.6" cy="411" r="1.35"/><circle cx="182.3" cy="415.2" r="1.35"/><circle cx="181.6" cy="418" r="1.35"/><circle cx="161.5" cy="421.1" r="1.35"/><circle cx="147.3" cy="424.7" r="1.35"/><circle cx="128.1" cy="428.3" r="1.35"/><circle cx="192.9" cy="431.6" r="1.35"/><circle cx="178.1" cy="435" r="1.35"/><circle cx="178.2" cy="438.4" r="1.35"/><circle cx="178.1" cy="441.6" r="1.35"/><circle cx="195.1" cy="444.5" r="1.35"/><circle cx="185.6" cy="447.8" r="1.35"/><circle cx="174.4" cy="451.5" r="1.35"/><circle cx="162.6" cy="454.4" r="1.35"/><circle cx="159.1" cy="458" r="1.35"/><circle cx="152.7" cy="461.2" r="1.35"/><circle cx="127.9" cy="515.1" r="1.35"/><circle cx="136" cy="495" r="1.35"/><circle cx="145.9" cy="471.3" r="1.35"/><circle cx="141.2" cy="468.2" r="1.35"/><circle cx="127.9" cy="518.4" r="1.35"/><circle cx="111.1" cy="521.9" r="1.35"/><circle cx="105.6" cy="525" r="1.35"/><circle cx="99.9" cy="528.3" r="1.35"/></g>
<g id="legend"><rect x="11.5" y="262" width="7.6" height="7.2" fill="#29b9ea"/>
<rect x="11.5" y="274.6" width="7.6" height="7.2" fill="#7db70d"/>
<rect x="11.5" y="287.1" width="7.6" height="7.2" fill="#f76b6b"/>
<rect x="11.5" y="299.6" width="7.6" height="7.2" fill="#ffee0a"/><circle cx="15.2" cy="315.3" r="2.15" fill="#111"/><rect x="62.5" y="536.9" width="22.9" height="1.6" fill="#111"/></g>
<g id="labels"><text x="5" y="22.9" font-size="10.4px" fill="#000" stroke="#000" stroke-width="0.2">A)</text>
<text x="235" y="22.9" font-size="10.4px" fill="#000" stroke="#000" stroke-width="0.2">B)</text>
<text x="234.7" y="246.9" font-size="10.4px" fill="#000" stroke="#000" stroke-width="0.2">C)</text>
<text x="21.8" y="267.6" font-size="6.3px" fill="#222">Subtype B</text>
<text x="21.8" y="280.2" font-size="6.3px" fill="#222">Subtype F1</text>
<text x="21.8" y="292.7" font-size="6.3px" fill="#222">Subtype C</text>
<text x="21.8" y="305.2" font-size="6.3px" fill="#222">Recombinants</text>
<text x="21.8" y="317.6" font-size="6.3px" fill="#222">Reference sequences</text>
<text x="85.2" y="344.4" font-size="4.9px" fill="#555">0.98</text>
<text x="61.6" y="507.3" font-size="4.6px" fill="#555">0.97</text>
<text x="113.8" y="391.8" font-size="4.8px" fill="#777">1</text>
<text x="69" y="544" font-size="4.99px" fill="#555">0.02</text>
<text x="180.3" y="374.6" font-size="6.1px" fill="#8c8c8c">Subtype D</text>
<text x="193.2" y="407.8" font-size="6.1px" fill="#8c8c8c">Subtype H</text>
<text x="189.4" y="420" font-size="6.1px" fill="#8c8c8c">Subtype J</text>
<text x="152.6" y="427.9" font-size="6.1px" fill="#8c8c8c">Subtype K</text>
<text x="199" y="436.9" font-size="6.1px" fill="#8c8c8c">Subtype A1</text>
<text x="202.6" y="447" font-size="6.1px" fill="#8c8c8c">Subtype A2</text>
<text x="181.8" y="458.3" font-size="6.1px" fill="#8c8c8c">Subtype G</text>
<text x="137" y="527.5" font-size="6.1px" fill="#8c8c8c">Subtype F2</text>
<text x="285.9" y="35.4" font-size="9.79px" fill="#111" stroke="#111" stroke-width="0.06" letter-spacing="0.4">2001–2007</text>
<text x="402.4" y="32" font-size="9.71px" fill="#111" stroke="#111" stroke-width="0.06" letter-spacing="0.4">2008–2012</text>
<text x="264" y="56.6" font-size="8.5px" fill="#4a4a4a">5%</text>
<text x="294.5" y="57" font-size="8.5px" fill="#3b3b33">11%</text>
<text x="319" y="105" font-size="8.5px" fill="#3b3b33">84%</text>
<text x="302.5" y="146.6" font-size="8.8px" fill="#333"><tspan font-style="italic">n</tspan> = 38</text>
<text x="380.5" y="53.9" font-size="8.5px" fill="#4a4a4a">2%</text>
<text x="410.2" y="57.7" font-size="8.5px" fill="#3b3b33">13%</text>
<text x="385.3" y="78.8" font-size="8.5px" fill="#3b3b33">10%</text>
<text x="433.9" y="102.1" font-size="8.5px" fill="#3b3b33">75%</text>
<text x="418.3" y="144.9" font-size="8.8px" fill="#333"><tspan font-style="italic">n</tspan> = 97</text>
<text x="283.2" y="238.9" font-size="9.38px" fill="#222">Metropolitan II</text>
<text x="295.1" y="257.5" font-size="6.6px" fill="#3b3b33">19%</text>
<text x="271.7" y="264.6" font-size="6.6px" fill="#4a4a4a">3%</text>
<text x="270.9" y="274.4" font-size="6.6px" fill="#4a4a4a">5%</text>
<text x="318.1" y="282.8" font-size="6.6px" fill="#3b3b33">73%</text>
<text x="303.8" y="314" font-size="6.56px" fill="#333"><tspan font-style="italic">n</tspan> = 38</text>
<text x="448.4" y="237.4" font-size="9.46px" fill="#222">Northern</text>
<text x="446.4" y="261.8" font-size="6.6px" fill="#3b3b33">25%</text>
<text x="471.3" y="282.8" font-size="6.6px" fill="#3b3b33">75%</text>
<text x="458" y="311.7" font-size="6.57px" fill="#333"><tspan font-style="italic">n</tspan> = 3</text>
<text x="311.1" y="418.3" font-size="9.41px" fill="#222">Metropolitan I</text>
<text x="309.2" y="429.5" font-size="6.6px" fill="#4a4a4a">1%</text>
<text x="324.6" y="433.5" font-size="6.6px" fill="#3b3b33">11%</text>
<text x="311.4" y="444.9" font-size="6.6px" fill="#3b3b33">10%</text>
<text x="341.5" y="464.4" font-size="6.6px" fill="#3b3b33">78%</text>
<text x="329.8" y="493.8" font-size="6.49px" fill="#333"><tspan font-style="italic">n</tspan> = 54</text>
<text x="441.5" y="414.9" font-size="9.32px" fill="#222">Coastal</text>
<text x="451.8" y="455.5" font-size="6.6px" fill="#3b3b33">100%</text>
<text x="451.8" y="490.5" font-size="6.49px" fill="#333"><tspan font-style="italic">n</tspan> = 1</text></g>
</svg>
</body>
</html>
